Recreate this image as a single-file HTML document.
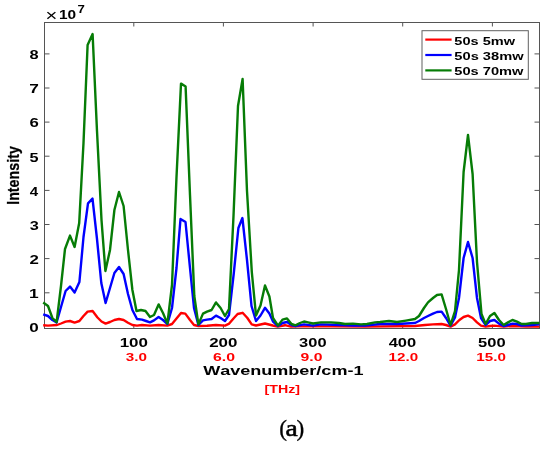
<!DOCTYPE html><html><head><meta charset="utf-8"><title>Raman spectrum (a)</title><style>html,body{margin:0;padding:0;background:#fff}svg{display:block}text{font-kerning:none}</style></head><body>
<svg width="550" height="450" viewBox="0 0 550 450">
<rect width="550" height="450" fill="#fff"/>
<rect x="44.5" y="22.5" width="495.0" height="306.0" fill="none" stroke="#555555" stroke-width="1"/>
<path d="M44.5,292.8h5 M539.5,292.8h-5 M44.5,258.6h5 M539.5,258.6h-5 M44.5,224.5h5 M539.5,224.5h-5 M44.5,190.4h5 M539.5,190.4h-5 M44.5,156.2h5 M539.5,156.2h-5 M44.5,122.1h5 M539.5,122.1h-5 M44.5,88.0h5 M539.5,88.0h-5 M44.5,53.9h5 M539.5,53.9h-5 M133.8,328.5v-4 M133.8,22.5v4 M223.4,328.5v-4 M223.4,22.5v4 M313.1,328.5v-4 M313.1,22.5v4 M402.7,328.5v-4 M402.7,22.5v4 M492.4,328.5v-4 M492.4,22.5v4" stroke="#555555" stroke-width="1" fill="none"/>
<polyline points="43.2,325.3 48.0,325.6 57.0,325.0 61.0,323.5 65.6,321.6 70.0,321.0 74.6,322.6 79.4,321.0 83.5,316.0 87.6,311.6 92.6,311.0 97.5,317.5 101.5,321.5 105.6,323.6 110.0,322.0 114.4,320.0 119.0,319.0 123.6,320.0 128.0,322.8 132.4,325.0 137.0,325.6 142.0,325.0 150.0,325.6 158.6,325.0 167.4,325.6 172.0,324.0 176.5,318.5 181.0,313.0 185.3,313.6 190.0,320.0 194.0,325.0 198.4,326.0 207.0,325.8 216.0,325.0 225.0,325.6 229.2,323.6 233.5,318.5 237.6,314.0 242.6,312.8 247.2,317.8 251.7,324.4 256.0,325.5 265.0,323.5 272.8,325.5 277.7,326.6 285.0,325.2 291.0,326.6 300.0,326.4 330.0,326.4 365.0,326.6 415.0,326.0 425.0,325.0 433.0,324.4 441.6,324.0 446.0,325.0 450.6,326.6 455.0,324.4 459.4,320.0 463.6,317.0 468.0,315.6 472.6,318.0 477.0,322.4 481.0,325.6 485.6,326.6 490.0,326.0 494.4,325.6 503.6,326.6 512.4,326.0 526.0,326.6 539.4,326.6" fill="none" stroke="#ff0000" stroke-width="2.4" stroke-linejoin="round" stroke-linecap="butt"/>
<polyline points="43.2,314.3 48.0,316.0 52.4,320.0 56.6,322.4 61.0,307.0 65.6,291.0 70.0,286.6 74.6,292.6 79.4,282.0 83.5,237.0 88.0,203.3 92.5,198.6 97.0,239.0 101.3,283.0 105.6,303.0 110.0,288.0 114.4,273.0 119.0,267.0 123.6,274.0 128.0,294.0 132.4,310.0 137.0,319.0 142.0,319.6 146.0,321.0 150.0,322.4 154.0,320.4 158.6,317.0 163.0,320.0 167.4,324.0 172.0,308.0 176.5,268.0 180.5,219.0 185.5,222.0 190.0,268.0 194.0,308.0 198.4,325.0 203.0,320.4 207.0,319.6 211.6,319.0 216.0,315.6 220.6,318.0 225.0,321.0 229.0,315.0 233.7,274.0 238.4,228.0 242.4,218.0 247.0,260.0 251.5,306.0 256.0,321.0 260.5,315.5 265.0,307.8 269.4,313.5 273.0,321.5 278.0,326.0 282.5,323.0 287.0,322.0 291.5,325.0 295.5,326.2 304.0,324.4 313.0,325.6 321.0,324.4 339.0,325.0 353.0,325.6 365.0,325.6 380.0,324.0 397.0,324.0 415.0,323.0 419.0,321.0 424.0,318.0 428.0,316.0 433.0,313.6 437.0,312.0 441.6,311.6 446.0,318.0 450.5,325.6 455.0,317.5 459.0,298.0 463.6,258.0 468.0,242.0 472.6,258.0 477.0,298.0 481.0,318.0 485.6,325.0 490.0,321.0 494.4,320.0 499.0,323.6 503.6,326.0 508.0,325.0 512.4,323.6 517.0,324.0 521.6,325.6 532.0,325.0 539.4,324.4" fill="none" stroke="#0000ff" stroke-width="2.4" stroke-linejoin="round" stroke-linecap="butt"/>
<polyline points="43.2,302.6 48.0,306.0 52.4,318.0 56.6,322.2 61.0,286.0 65.0,249.0 70.0,235.6 74.6,247.0 79.2,223.0 83.5,143.0 87.6,45.0 92.6,34.0 97.0,131.0 101.5,220.0 105.4,271.0 110.0,250.0 114.4,210.0 119.0,192.0 123.6,206.0 128.0,250.0 132.4,290.0 136.5,311.0 141.0,310.0 145.5,311.0 150.0,317.0 154.0,315.0 158.6,304.4 163.0,313.0 167.4,323.6 172.0,285.0 176.5,177.0 181.0,83.6 185.6,86.6 190.0,195.0 194.3,296.0 198.4,324.4 203.0,313.6 207.0,311.6 211.6,310.0 216.0,302.4 220.6,308.0 225.0,316.0 229.0,309.0 233.5,216.0 238.0,106.0 242.6,79.0 247.0,191.0 251.8,272.0 256.0,315.5 260.5,305.5 265.0,285.5 269.4,296.5 273.0,318.0 278.0,325.6 282.5,319.6 287.0,318.4 291.5,324.0 295.5,325.4 300.0,323.0 304.0,321.5 308.0,322.4 313.0,323.5 321.0,322.4 331.0,322.4 339.0,323.0 345.0,324.0 353.0,323.6 361.0,324.4 367.0,324.0 375.0,322.4 380.0,322.0 389.0,321.0 397.0,322.0 406.0,320.6 415.0,319.0 419.0,316.0 424.0,308.0 428.0,302.4 433.0,298.0 437.0,295.0 441.6,294.4 446.0,309.0 450.5,325.0 455.0,311.0 459.0,270.0 463.6,172.0 468.0,135.0 472.6,174.0 477.0,262.0 481.5,314.0 485.6,324.0 490.0,316.0 494.4,313.0 499.0,320.0 503.6,325.0 508.0,322.4 512.4,320.0 517.0,321.6 521.6,324.0 526.0,324.0 532.0,323.0 539.4,323.0" fill="none" stroke="#067c06" stroke-width="2.4" stroke-linejoin="round" stroke-linecap="butt"/>
<text transform="translate(29.33,332.17) scale(1.283,1)" font-size="13.28" font-weight="bold" font-family="'Liberation Sans', sans-serif" fill="#000">0</text>
<text transform="translate(28.90,298.17) scale(1.274,1)" font-size="13.66" font-weight="bold" font-family="'Liberation Sans', sans-serif" fill="#000">1</text>
<text transform="translate(29.42,264.04) scale(1.250,1)" font-size="13.46" font-weight="bold" font-family="'Liberation Sans', sans-serif" fill="#000">2</text>
<text transform="translate(29.63,229.76) scale(1.230,1)" font-size="13.25" font-weight="bold" font-family="'Liberation Sans', sans-serif" fill="#000">3</text>
<text transform="translate(29.77,195.78) scale(1.107,1)" font-size="13.66" font-weight="bold" font-family="'Liberation Sans', sans-serif" fill="#000">4</text>
<text transform="translate(29.50,161.52) scale(1.208,1)" font-size="13.47" font-weight="bold" font-family="'Liberation Sans', sans-serif" fill="#000">5</text>
<text transform="translate(29.39,127.39) scale(1.262,1)" font-size="13.28" font-weight="bold" font-family="'Liberation Sans', sans-serif" fill="#000">6</text>
<text transform="translate(29.26,93.39) scale(1.263,1)" font-size="13.66" font-weight="bold" font-family="'Liberation Sans', sans-serif" fill="#000">7</text>
<text transform="translate(29.48,59.13) scale(1.236,1)" font-size="13.28" font-weight="bold" font-family="'Liberation Sans', sans-serif" fill="#000">8</text>
<text transform="translate(119.63,346.87) scale(1.323,1)" font-size="12.85" font-weight="bold" font-family="'Liberation Sans', sans-serif" fill="#000">100</text>
<text transform="translate(209.21,346.87) scale(1.319,1)" font-size="12.85" font-weight="bold" font-family="'Liberation Sans', sans-serif" fill="#000">200</text>
<text transform="translate(299.12,346.86) scale(1.283,1)" font-size="12.83" font-weight="bold" font-family="'Liberation Sans', sans-serif" fill="#000">300</text>
<text transform="translate(388.65,346.87) scale(1.284,1)" font-size="12.85" font-weight="bold" font-family="'Liberation Sans', sans-serif" fill="#000">400</text>
<text transform="translate(478.09,346.87) scale(1.286,1)" font-size="12.85" font-weight="bold" font-family="'Liberation Sans', sans-serif" fill="#000">500</text>
<text transform="translate(125.85,360.87) scale(1.368,1)" font-size="11.14" font-weight="bold" font-family="'Liberation Sans', sans-serif" fill="#ff0000">3.0</text>
<text transform="translate(213.02,360.89) scale(1.420,1)" font-size="11.16" font-weight="bold" font-family="'Liberation Sans', sans-serif" fill="#ff0000">6.0</text>
<text transform="translate(300.55,360.89) scale(1.411,1)" font-size="11.16" font-weight="bold" font-family="'Liberation Sans', sans-serif" fill="#ff0000">9.0</text>
<text transform="translate(388.54,360.89) scale(1.362,1)" font-size="11.16" font-weight="bold" font-family="'Liberation Sans', sans-serif" fill="#ff0000">12.0</text>
<text transform="translate(476.34,360.89) scale(1.362,1)" font-size="11.16" font-weight="bold" font-family="'Liberation Sans', sans-serif" fill="#ff0000">15.0</text>
<text transform="translate(203.18,374.53) scale(1.343,1)" font-size="13.43" font-weight="bold" font-family="'Liberation Sans', sans-serif" fill="#000">Wavenumber/cm-1</text>
<text transform="translate(264.50,392.55) scale(1.204,1)" font-size="11.80" font-weight="bold" font-family="'Liberation Sans', sans-serif" fill="#ff0000">[THz]</text>
<text transform="translate(45.40,20.92) scale(1.287,1)" font-size="15.68" font-weight="normal" font-family="'Liberation Sans', sans-serif" fill="#000">×</text>
<text transform="translate(59.03,18.88) scale(1.217,1)" font-size="12.71" font-weight="bold" font-family="'Liberation Sans', sans-serif" fill="#000">10</text>
<text transform="translate(77.43,12.80) scale(1.299,1)" font-size="10.17" font-weight="bold" font-family="'Liberation Sans', sans-serif" fill="#000">7</text>
<text transform="translate(19.4,204.80) rotate(-90) scale(0.884,1)" font-size="16.14" font-weight="bold" font-family="'Liberation Sans', sans-serif" fill="#000" stroke="#000" stroke-width="0.25">Intensity</text>
<rect x="422" y="30.7" width="106.3" height="48.6" fill="#fff" stroke="#606060" stroke-width="1"/>
<line x1="425.3" x2="451.6" y1="39.6" y2="39.6" stroke="#ff0000" stroke-width="2.2"/>
<text transform="translate(454.35,44.69) scale(1.271,1)" font-size="11.44" font-weight="bold" font-family="'Liberation Sans', sans-serif" fill="#000">50s 5mw</text>
<line x1="425.3" x2="451.6" y1="55.0" y2="55.0" stroke="#0000ff" stroke-width="2.2"/>
<text transform="translate(454.35,59.97) scale(1.283,1)" font-size="11.42" font-weight="bold" font-family="'Liberation Sans', sans-serif" fill="#000">50s 38mw</text>
<line x1="425.3" x2="451.6" y1="70.4" y2="70.4" stroke="#067c06" stroke-width="2.2"/>
<text transform="translate(454.35,75.49) scale(1.280,1)" font-size="11.44" font-weight="bold" font-family="'Liberation Sans', sans-serif" fill="#000">50s 70mw</text>
<text y="436.3" font-size="23.3" font-family="'Liberation Serif', serif" fill="#000" stroke="#000" stroke-width="0.3"><tspan x="279.3">(</tspan><tspan x="285.4" textLength="12.25" lengthAdjust="spacingAndGlyphs" stroke-width="0.55">a</tspan><tspan x="296.5">)</tspan></text>
</svg></body></html>
